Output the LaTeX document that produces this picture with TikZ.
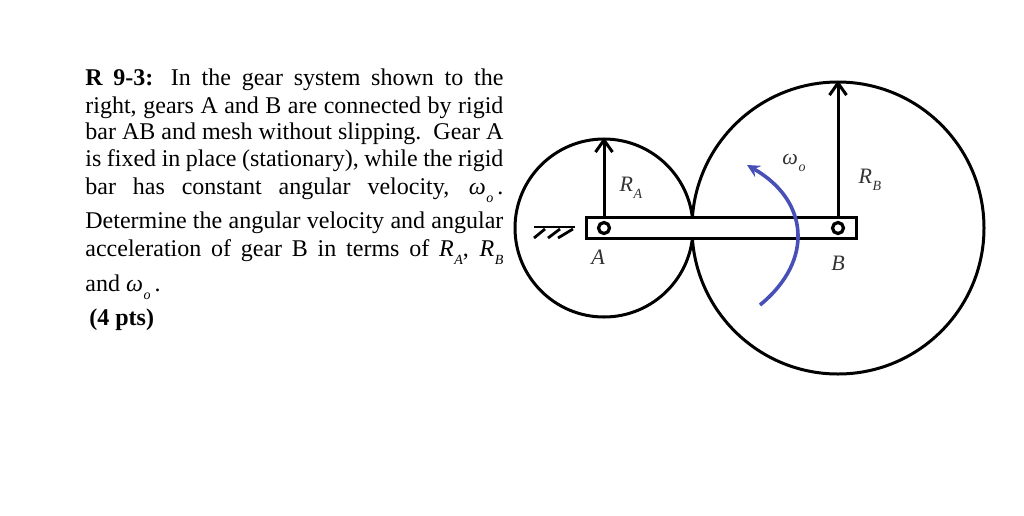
\documentclass[tikz,border=0pt]{standalone}
\usepackage{fontspec}
\setmainfont{Liberation Serif}
\usepackage{tikz}
\usetikzlibrary{arrows, arrows.meta, positioning}
\definecolor{arcblue}{RGB}{72,80,184}
\newcommand{\symsub}[2]{\textit{#1}\kern0.3pt\raisebox{-0.75ex}{\fontsize{7}{7}\selectfont\textit{#2}}}
\newcommand{\fullline}[1]{\hbox to 209pt{#1}}
\tikzset{thick,
    gearwheel/.style={circle,draw,line width=1.5pt,inner sep=0pt},
    linkbar/.style={rectangle,draw,fill=white,line width=1.5pt,inner sep=0pt,minimum width=135pt,minimum height=10.5pt},
    pivot/.style={circle,draw,fill=white,line width=1.6pt,inner sep=0pt,minimum size=5.5pt},
    radiusline/.style={-{Straight Barb[length=6pt,width=8.5pt]},line width=1.5pt},
    ground/.style={line width=1.4pt},
    textline/.style={anchor=base west,inner sep=0pt,font=\fontsize{12}{14}\selectfont},
    textnode/.style={inner sep=0pt,text=black!80,font=\fontsize{11}{12}\selectfont\itshape}}

\begin{document}
\begin{tikzpicture}[x=0.5pt,y=-0.5pt]
\useasboundingbox (0,0) rectangle (1024,515);
% problem text
\node[textline] (l1) at (85,85)  {\fullline{\textbf{R 9-3:} In the gear system shown to the}};
\node[textline] (l2) at (85,113) {\fullline{right, gears A and B are connected by rigid}};
\node[textline] (l3) at (85,139) {\fullline{bar AB and mesh without slipping.\ \ Gear A}};
\node[textline] (l4) at (85,166) {\fullline{is fixed in place (stationary), while the rigid}};
\node[textline] (l5) at (85,194) {\fullline{bar has constant angular velocity, \symsub{ω}{o}\,.}};
\node[textline] (l6) at (85,228) {\fullline{Determine the angular velocity and angular}};
\node[textline] (l7) at (85,256) {\fullline{acceleration of gear B in terms of \symsub{R}{A}, \symsub{R}{B}}};
\node[textline] (l8) at (85,291) {and \symsub{ω}{o}\,.};
\node[textline] (l9) at (89,325) {\textbf{(4 pts)}};
% gears
\node[gearwheel,minimum size=89pt]  (gearA) at (604,228) {};
\node[gearwheel,minimum size=146pt] (gearB) at (838,228) {};
\node[linkbar] (bar) at (721,227.5) {};
\node[pivot] (a) at (604,228) {};
\node[pivot,node distance=117pt] (b) [right of = a] {};
\coordinate (topA) at (gearA.north);
\coordinate (topB) at (gearB.north);
\draw[radiusline] (a |- bar.north) -- (topA);
\draw[radiusline] (b |- bar.north) -- (topB);
% fixed support
\coordinate (g1) at (534,227);
\coordinate (g2) at (575,227);
\draw[ground] (g1) -- (g2);
\draw[ground] (545,229) -- (534,238);
\draw[ground] (560,229) -- (548,238);
\draw[ground] (573,229) -- (558,238);
% rotation of the bar
\coordinate (arcS) at (760,305);
\coordinate (arcE) at (747,165);
\draw[-stealth,arcblue,line width=1.8pt] (arcS) .. controls (815,260) and (808,200) .. (arcE);
% labels
\node[textnode] (labA) at (598,257) {A};
\node[textnode] (labB) at (838,263) {B};
\node[textnode] (labRA) at (631,188) {\symsub{R}{A}};
\node[textnode] (labRB) at (870,180) {\symsub{R}{B}};
\node[textnode] (labw) at (794,163) {\symsub{ω}{o}};
\end{tikzpicture}
\end{document}
